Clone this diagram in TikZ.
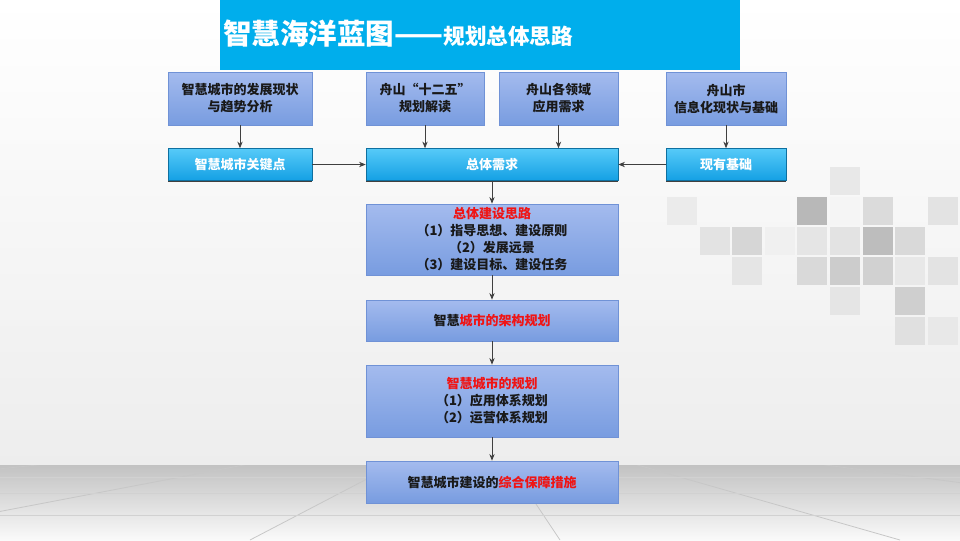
\documentclass[tikz,border=0pt]{standalone}
\usepackage{fontspec}
\setmainfont{Noto Sans CJK SC}
\usetikzlibrary{arrows.meta,shadows,calc}
\definecolor{bannerblue}{RGB}{0,174,236}
\definecolor{planTop}{RGB}{164,187,238}
\definecolor{planBot}{RGB}{120,156,224}
\definecolor{planEdge}{RGB}{112,146,214}
\definecolor{keyTop}{RGB}{86,202,248}
\definecolor{keyBot}{RGB}{20,160,228}
\definecolor{planred}{RGB}{240,20,20}
\tikzset{
  planbox/.style={draw=planEdge,line width=0.5pt,top color=planTop,bottom color=planBot,
    align=center,text=black!90,font=\fontsize{9.75}{12.75}\selectfont\bfseries,inner sep=0pt},
  keybox/.style={draw=keyBot!70!black,line width=0.4pt,top color=keyTop,bottom color=keyBot,
    drop shadow={shadow xshift=0pt,shadow yshift=-1.3pt,fill=black!75,opacity=1},
    align=center,text=white,font=\fontsize{9.75}{12.75}\selectfont\bfseries,
    minimum height=24pt,inner sep=0pt},
  flowarrow/.style={draw=black!75,line width=0.6pt,-{Stealth[length=5pt,width=4pt]}}
}
\begin{document}
\begin{tikzpicture}[x=0.75pt,y=-0.75pt]
\useasboundingbox (0,0) rectangle (960,540);
% background and floor
\shade[top color=white,bottom color=black!7] (0,0) rectangle (960,465);
\shade[top color=black!24,middle color=black!10,bottom color=black!2] (0,465) rectangle (960,540);
\begin{scope}
  \clip (0,465) rectangle (960,540);
  \foreach \bx in {-1500,-700,-150,250,560,900,1400,2200}
    \draw[black!22,line width=0.6pt] (480,420) -- (\bx,540);
  \foreach \hy in {477,493,515}
    \draw[black!18,line width=0.6pt] (0,\hy) -- (960,\hy);
\end{scope}
% grey squares on the right
\foreach \c/\r/\g in {5/0/9, 0/1/8, 4/1/28, 5/1/4, 6/1/14, 8/1/11,
    1/2/11, 2/2/16, 3/2/6, 4/2/10, 5/2/11, 6/2/26, 7/2/15,
    2/3/10, 4/3/15, 5/3/20, 6/3/18, 7/3/9, 8/3/11,
    5/4/10, 7/4/19, 7/5/12, 8/5/9}
  \fill[black!\g] (667+32.6*\c,167+30*\r) rectangle ++(30,28);
% title banner
\fill[bannerblue] (220,0) rectangle (740,70);
\node[anchor=west,text=white,inner sep=0pt] (title) at (223,34)
  {\fontsize{21.4}{24}\selectfont\bfseries 智慧海洋蓝图——\fontsize{16.2}{20}\selectfont 规划总体思路};
% input boxes
\node[planbox,minimum width=108pt,minimum height=39.75pt] (trend) at (240,98.5) {智慧城市的发展现状\\与趋势分析};
\node[planbox,minimum width=88.5pt,minimum height=39.75pt] (plan) at (425,98.5) {舟山“十二五”\\规划解读};
\node[planbox,minimum width=89.25pt,minimum height=39.75pt] (need) at (558.5,98.5) {舟山各领域\\应用需求};
\node[planbox,minimum width=90pt,minimum height=39.75pt] (info) at (726,98.5) {舟山市\\信息化现状与基础};
% second row
\node[keybox,minimum width=108pt] (key) at (240,164.5) {智慧城市关键点};
\node[keybox,minimum width=189pt] (demand) at (492,164.5) {总体需求};
\node[keybox,minimum width=90pt] (base) at (726,164.5) {现有基础};
% flow
\node[planbox,minimum width=189pt,minimum height=53.25pt] (idea) at (492,239.5)
  {\textcolor{planred}{总体建设思路}\\（1）指导思想、建设原则\\（2）发展远景\\（3）建设目标、建设任务};
\node[planbox,minimum width=189pt,minimum height=30.75pt] (arch) at (492,320.5)
  {智慧\textcolor{planred}{城市的架构规划}};
\node[planbox,minimum width=189pt,minimum height=54pt] (sys) at (492,401)
  {\textcolor{planred}{智慧城市的规划}\\（1）应用体系规划\\（2）运营体系规划};
\node[planbox,minimum width=189pt,minimum height=31.5pt] (safe) at (492,482)
  {智慧城市建设的\textcolor{planred}{综合保障措施}};
% connectors
\draw[flowarrow] (trend) -- (key);
\draw[flowarrow] (plan.south) -- (plan.south |- demand.north);
\draw[flowarrow] (need.south) -- (need.south |- demand.north);
\draw[flowarrow] (info) -- (base);
\draw[flowarrow] (key) -- (demand);
\draw[flowarrow] (base) -- (demand);
\draw[flowarrow] (demand) -- (idea);
\draw[flowarrow] (idea) -- (arch);
\draw[flowarrow] (arch) -- (sys);
\draw[flowarrow] (sys) -- (safe);
\end{tikzpicture}
\end{document}
